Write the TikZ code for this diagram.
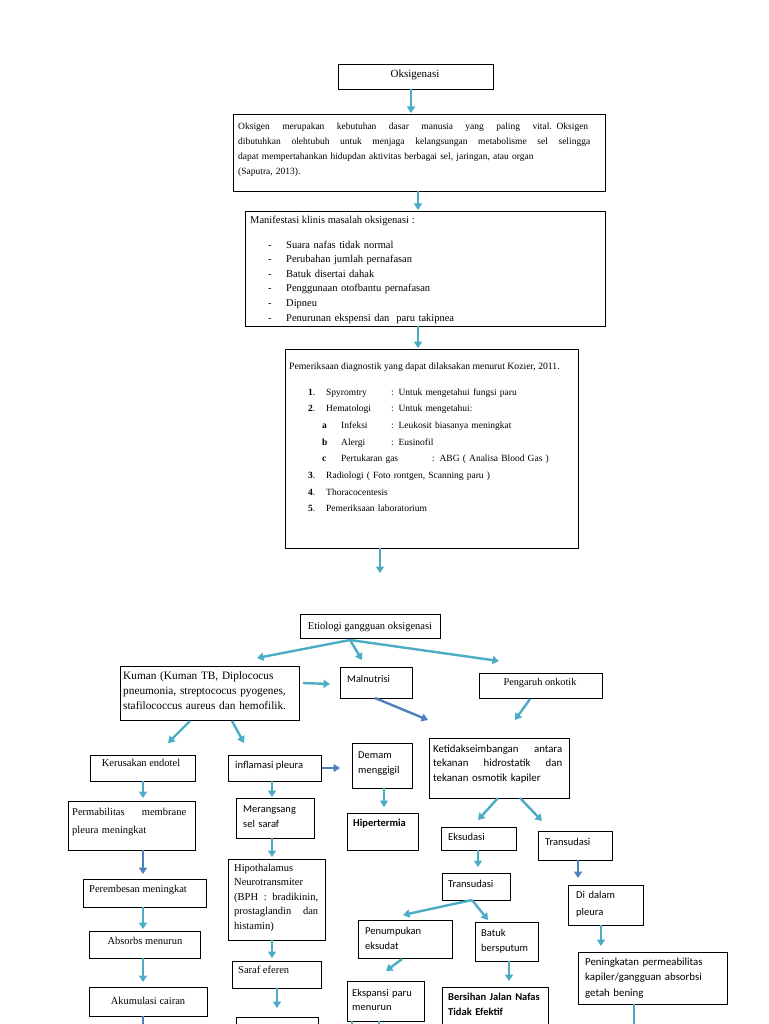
\documentclass[tikz,border=0pt]{standalone}
\usepackage{fontspec}
\setmainfont{Liberation Serif}
\newfontfamily\calibrifont{Carlito}
\usetikzlibrary{arrows.meta,calc}
\definecolor{lb}{RGB}{75,172,198}
\definecolor{db}{RGB}{79,129,189}
\newcommand\jline[2]{\leavevmode\hbox to #1{\spaceskip=0.25em plus 1fil\relax #2}}
\begin{document}
\begin{tikzpicture}[x=1pt,y=-1pt,
  box/.style={draw=black,line width=0.9pt,anchor=north west,inner sep=0pt,outer sep=0pt},
  tx/.style={anchor=base west,inner sep=0pt,align=left},
  txc/.style={anchor=base,inner sep=0pt,align=center},
  sr/.style={font=\fontsize{#1}{14.5}\selectfont},
  sn/.style={font=\calibrifont\fontsize{#1}{15}\selectfont},
  snb/.style={font=\calibrifont\bfseries\fontsize{#1}{15}\selectfont},
  arr/.style={draw=lb,line width=2.4pt,-{Triangle[length=6.5pt,width=8pt]}},
  darr/.style={arr,draw=db},
]
\useasboundingbox (0,0) rectangle (768,1024);
\clip (0,0) rectangle (768,1024);

% ---------- boxes ----------
\node[box,minimum width=155pt,minimum height=25pt] (oks) at (338,64) {};
\node[box,minimum width=372pt,minimum height=77pt] (def) at (233,114) {};
\node[box,minimum width=360pt,minimum height=115pt] (man) at (245,211) {};
\node[box,minimum width=293pt,minimum height=199pt] (pem) at (285,349) {};
\node[box,minimum width=140pt,minimum height=24pt] (eti) at (300,614) {};
\node[box,minimum width=179pt,minimum height=54pt] (kum) at (120,666) {};
\node[box,minimum width=72pt,minimum height=31pt] (mal) at (340,667) {};
\node[box,minimum width=123pt,minimum height=25pt] (pen) at (479,673) {};
\node[box,minimum width=140pt,minimum height=60pt] (ket) at (429,738) {};
\node[box,minimum width=105pt,minimum height=26pt] (ker) at (90,755) {};
\node[box,minimum width=93pt,minimum height=26pt] (inf) at (228,755) {};
\node[box,minimum width=60pt,minimum height=45pt] (dem) at (352,743) {};
\node[box,minimum width=71pt,minimum height=37pt] (hip) at (347,813) {};
\node[box,minimum width=127pt,minimum height=49pt] (perm) at (68,801) {};
\node[box,minimum width=78pt,minimum height=40pt] (mer) at (236,798) {};
\node[box,minimum width=75pt,minimum height=23pt] (eks) at (441,827) {};
\node[box,minimum width=74pt,minimum height=29pt] (tra2) at (538,831) {};
\node[box,minimum width=123pt,minimum height=28pt] (pere) at (83,879) {};
\node[box,minimum width=97pt,minimum height=81pt] (hipo) at (228,859) {};
\node[box,minimum width=68pt,minimum height=27pt] (tra1) at (442,873) {};
\node[box,minimum width=75pt,minimum height=40pt] (did) at (568,885) {};
\node[box,minimum width=111pt,minimum height=27pt] (abs) at (89,931) {};
\node[box,minimum width=94pt,minimum height=38pt] (penum) at (358,920) {};
\node[box,minimum width=63pt,minimum height=39pt] (bat) at (475,922) {};
\node[box,minimum width=149pt,minimum height=52pt] (pening) at (578,952) {};
\node[box,minimum width=89pt,minimum height=27pt] (saraf) at (232,961) {};
\node[box,minimum width=118pt,minimum height=29pt] (akum) at (89,987) {};
\node[box,minimum width=77pt,minimum height=40pt] (eksp) at (347,981) {};
\node[box,minimum width=106pt,minimum height=50pt] (bers) at (442,987) {};
\node[box,minimum width=82pt,minimum height=30pt] (nxt) at (236,1017) {};

% ---------- free ends ----------
\coordinate (pemend) at (380,573);
\coordinate (akend) at (143,1040);
\coordinate (peningend) at (634,1040);
\coordinate (e1end) at (352,1040);
\coordinate (e2end) at (379,1040);

% ---------- texts ----------
\node[txc,sr=11] (oks-t) at (415,78) {Oksigenasi};
\node[tx,text width=352pt,font=\fontsize{9.5}{14.7}\selectfont] (def-t) at (238,130)
 {\jline{350pt}{Oksigen merupakan kebutuhan dasar manusia yang paling vital. Oksigen}\\
  \jline{352pt}{dibutuhkan olehtubuh untuk menjaga kelangsungan metabolisme sel selingga}\\
  dapat mempertahankan hidupdan aktivitas berbagai sel, jaringan, atau organ\\
  (Saputra, 2013).};
\node[tx,sr=10.5] (man-t) at (250,224) {Manifestasi klinis masalah oksigenasi :};
\node[tx,text width=300pt,font=\fontsize{10.5}{14.6}\selectfont] (man-l) at (268,248)
 {\makebox[18pt][l]{-}Suara nafas tidak normal\\
  \makebox[18pt][l]{-}Perubahan jumlah pernafasan\\
  \makebox[18pt][l]{-}Batuk disertai dahak\\
  \makebox[18pt][l]{-}Penggunaan otofbantu pernafasan\\
  \makebox[18pt][l]{-}Dipneu\\
  \makebox[18pt][l]{-}Penurunan ekspensi dan\ \ paru takipnea};
\node[tx,sr=9.7] (pem-t) at (289,369) {Pemeriksaan diagnostik yang dapat dilaksakan menurut Kozier, 2011.};
\node[tx,text width=260pt,font=\fontsize{9.5}{16.7}\selectfont] (pem-l) at (308,395)
 {\makebox[18pt][l]{\textbf{1}.}\makebox[65pt][l]{Spyromtry}: Untuk mengetahui fungsi paru\\
  \makebox[18pt][l]{\textbf{2}.}\makebox[65pt][l]{Hematologi}: Untuk mengetahui:\\
  \hspace*{14pt}\makebox[19pt][l]{\textbf{a}}\makebox[50pt][l]{Infeksi}: Leukosit biasanya meningkat\\
  \hspace*{14pt}\makebox[19pt][l]{\textbf{b}}\makebox[50pt][l]{Alergi}: Eusinofil\\
  \hspace*{14pt}\makebox[19pt][l]{\textbf{c}}\makebox[91pt][l]{Pertukaran gas}: ABG ( Analisa Blood Gas )\\
  \makebox[18pt][l]{\textbf{3}.}Radiologi ( Foto rontgen, Scanning paru )\\
  \makebox[18pt][l]{\textbf{4}.}Thoracocentesis\\
  \makebox[18pt][l]{\textbf{5}.}Pemeriksaan laboratorium};
\node[txc,sr=10.5] (eti-t) at (370,629) {Etiologi gangguan oksigenasi};
\node[tx,text width=176pt,font=\fontsize{11.3}{15}\selectfont] (kum-t) at (123,679)
 {Kuman (Kuman TB, Diplococus\\ pneumonia, streptococus pyogenes,\\ stafilococcus aureus dan hemofilik.};
\node[tx,sn=10.3] (mal-t) at (347,682) {Malnutrisi};
\node[txc,sr=10.3] (pen-t) at (540,685) {Pengaruh onkotik};
\node[tx,text width=129pt,font=\calibrifont\fontsize{10.8}{14.5}\selectfont] (ket-t) at (433,752)
 {\jline{129pt}{Ketidakseimbangan antara}\\
  \jline{129pt}{tekanan hidrostatik dan}\\
  tekanan osmotik kapiler};
\node[txc,sr=10.5] (ker-t) at (141,766) {Kerusakan endotel};
\node[tx,sn=10.5] (inf-t) at (235,768) {inflamasi pleura};
\node[tx,text width=52pt,font=\calibrifont\fontsize{10.5}{15}\selectfont] (dem-t) at (358,758) {Demam\\ menggigil};
\node[tx,snb=10.5] (hip-t) at (353,826) {Hipertermia};
\node[tx,text width=114pt,font=\fontsize{10.5}{18}\selectfont] (perm-t) at (72,815)
 {\jline{114pt}{Permabilitas membrane}\\ pleura meningkat};
\node[tx,text width=70pt,font=\calibrifont\fontsize{10.5}{15}\selectfont] (mer-t) at (243,812) {Merangsang\\ sel saraf};
\node[tx,text width=84pt,font=\fontsize{10.5}{14.5}\selectfont] (hipo-t) at (234,871)
 {Hipothalamus\\ Neurotransmiter\\
  \jline{84pt}{(BPH : bradikinin,}\\
  \jline{84pt}{prostaglandin dan}\\ histamin)};
\node[tx,sr=10.5] (saraf-t) at (238,973) {Saraf eferen};
\node[tx,sr=10.5] (pere-t) at (89,892) {Perembesan meningkat};
\node[txc,sr=10.5] (abs-t) at (145,944) {Absorbs menurun};
\node[txc,sr=10.5] (akum-t) at (148,1004) {Akumulasi cairan};
\node[tx,sn=10.5] (eks-t) at (448,840) {Eksudasi};
\node[tx,sn=10.5] (tra2-t) at (545,845) {Transudasi};
\node[tx,sn=10.5] (tra1-t) at (448,887) {Transudasi};
\node[tx,text width=65pt,font=\calibrifont\fontsize{10.5}{17}\selectfont] (did-t) at (576,898) {Di dalam\\ pleura};
\node[tx,text width=85pt,font=\calibrifont\fontsize{10.5}{15}\selectfont] (penum-t) at (365,934) {Penumpukan\\ eksudat};
\node[tx,text width=55pt,font=\calibrifont\fontsize{10.5}{15}\selectfont] (bat-t) at (481,936) {Batuk\\ bersputum};
\node[tx,text width=140pt,font=\calibrifont\fontsize{10.8}{15.5}\selectfont] (pening-t) at (585,965)
 {Peningkatan permeabilitas\\ kapiler/gangguan absorbsi\\ getah bening};
\node[tx,text width=70pt,font=\calibrifont\fontsize{10.5}{14}\selectfont] (eksp-t) at (352,996) {Ekspansi paru\\ menurun};
\node[tx,text width=100pt,font=\calibrifont\bfseries\fontsize{10.5}{15}\selectfont] (bers-t) at (448,1000) {Bersihan Jalan Nafas\\ Tidak Efektif};

% ---------- connectors ----------
\draw[arr] ($(oks.south west)+(73,0)$) -- ($(def.north west)+(178,-1)$);
\draw[arr] ($(def.south west)+(185,0)$) -- ($(man.north west)+(173,-1)$);
\draw[arr] ($(man.south west)+(173,0)$) -- ($(pem.north west)+(133,-1)$);
\draw[arr] ($(pem.south west)+(95,0)$) -- (pemend);
\draw[arr] ($(eti.south west)+(50,2)$) -- ($(kum.north west)+(137,-8)$);
\draw[arr] ($(eti.south west)+(50,2)$) -- ($(mal.north west)+(22,-7)$);
\draw[arr] ($(eti.south west)+(50,2)$) -- ($(pen.north west)+(20,-12)$);
\draw[arr] ($(kum.north east)+(4,17)$) -- ($(mal.north west)+(-10,17)$);
\draw[darr] ($(mal.south west)+(35,0)$) -- ($(ket.north west)+(-1,-18)$);
\draw[arr] ($(pen.south west)+(51,1)$) -- ($(ket.north west)+(86,-18)$);
\draw[arr] ($(kum.south west)+(70,1)$) -- ($(ker.north west)+(78,-12)$);
\draw[arr] ($(kum.south west)+(112,1)$) -- ($(inf.north west)+(16,-12)$);
\draw[arr] ($(ker.south west)+(53,0)$) -- ($(perm.north west)+(75,-3)$);
\draw[darr] ($(perm.south west)+(75,0)$) -- ($(pere.north west)+(60,-5)$);
\draw[arr] ($(pere.south west)+(60,0)$) -- ($(abs.north west)+(54,-2)$);
\draw[arr] ($(abs.south west)+(54,0)$) -- ($(akum.north west)+(54,-5)$);
\draw[darr] ($(akum.south west)+(54,0)$) -- (akend);
\draw[darr] ($(inf.north east)+(1,13)$) -- ($(dem.north west)+(-12,25)$);
\draw[arr] ($(inf.south west)+(44,0)$) -- ($(mer.north west)+(36,-1)$);
\draw[arr] ($(mer.south west)+(36,0)$) -- ($(hipo.north west)+(44,-2)$);
\draw[arr] ($(hipo.south west)+(44,0)$) -- ($(saraf.north west)+(40,-3)$);
\draw[arr] ($(saraf.south west)+(45,0)$) -- ($(nxt.north west)+(41,-9)$);
\draw[arr] ($(dem.south west)+(32,0)$) -- ($(hip.north west)+(37,-6)$);
\draw[arr] ($(ket.south west)+(69,0)$) -- ($(eks.north west)+(37,-7)$);
\draw[arr] ($(ket.south west)+(91,0)$) -- ($(tra2.north west)+(4,-10)$);
\draw[arr] ($(eks.south west)+(37,0)$) -- ($(tra1.north west)+(36,-6)$);
\draw[darr] ($(tra2.south west)+(40,0)$) -- ($(did.north west)+(10,-7)$);
\draw[arr] ($(tra1.south west)+(30,0)$) -- ($(penum.north west)+(45,-5)$);
\draw[arr] ($(tra1.south west)+(30,0)$) -- ($(bat.north west)+(13,-2)$);
\draw[arr] ($(penum.south west)+(44,1)$) -- ($(eksp.north west)+(39,-10)$);
\draw[arr] ($(bat.south west)+(34,0)$) -- ($(bers.north west)+(67,-6)$);
\draw[arr] ($(did.south west)+(33,0)$) -- ($(pening.north west)+(23,-6)$);
\draw[arr] ($(pening.south west)+(56,0)$) -- (peningend);
\draw[arr] ($(eksp.south west)+(5,0)$) -- (e1end);
\draw[arr] ($(eksp.south west)+(32,0)$) -- (e2end);
\end{tikzpicture}
\end{document}
